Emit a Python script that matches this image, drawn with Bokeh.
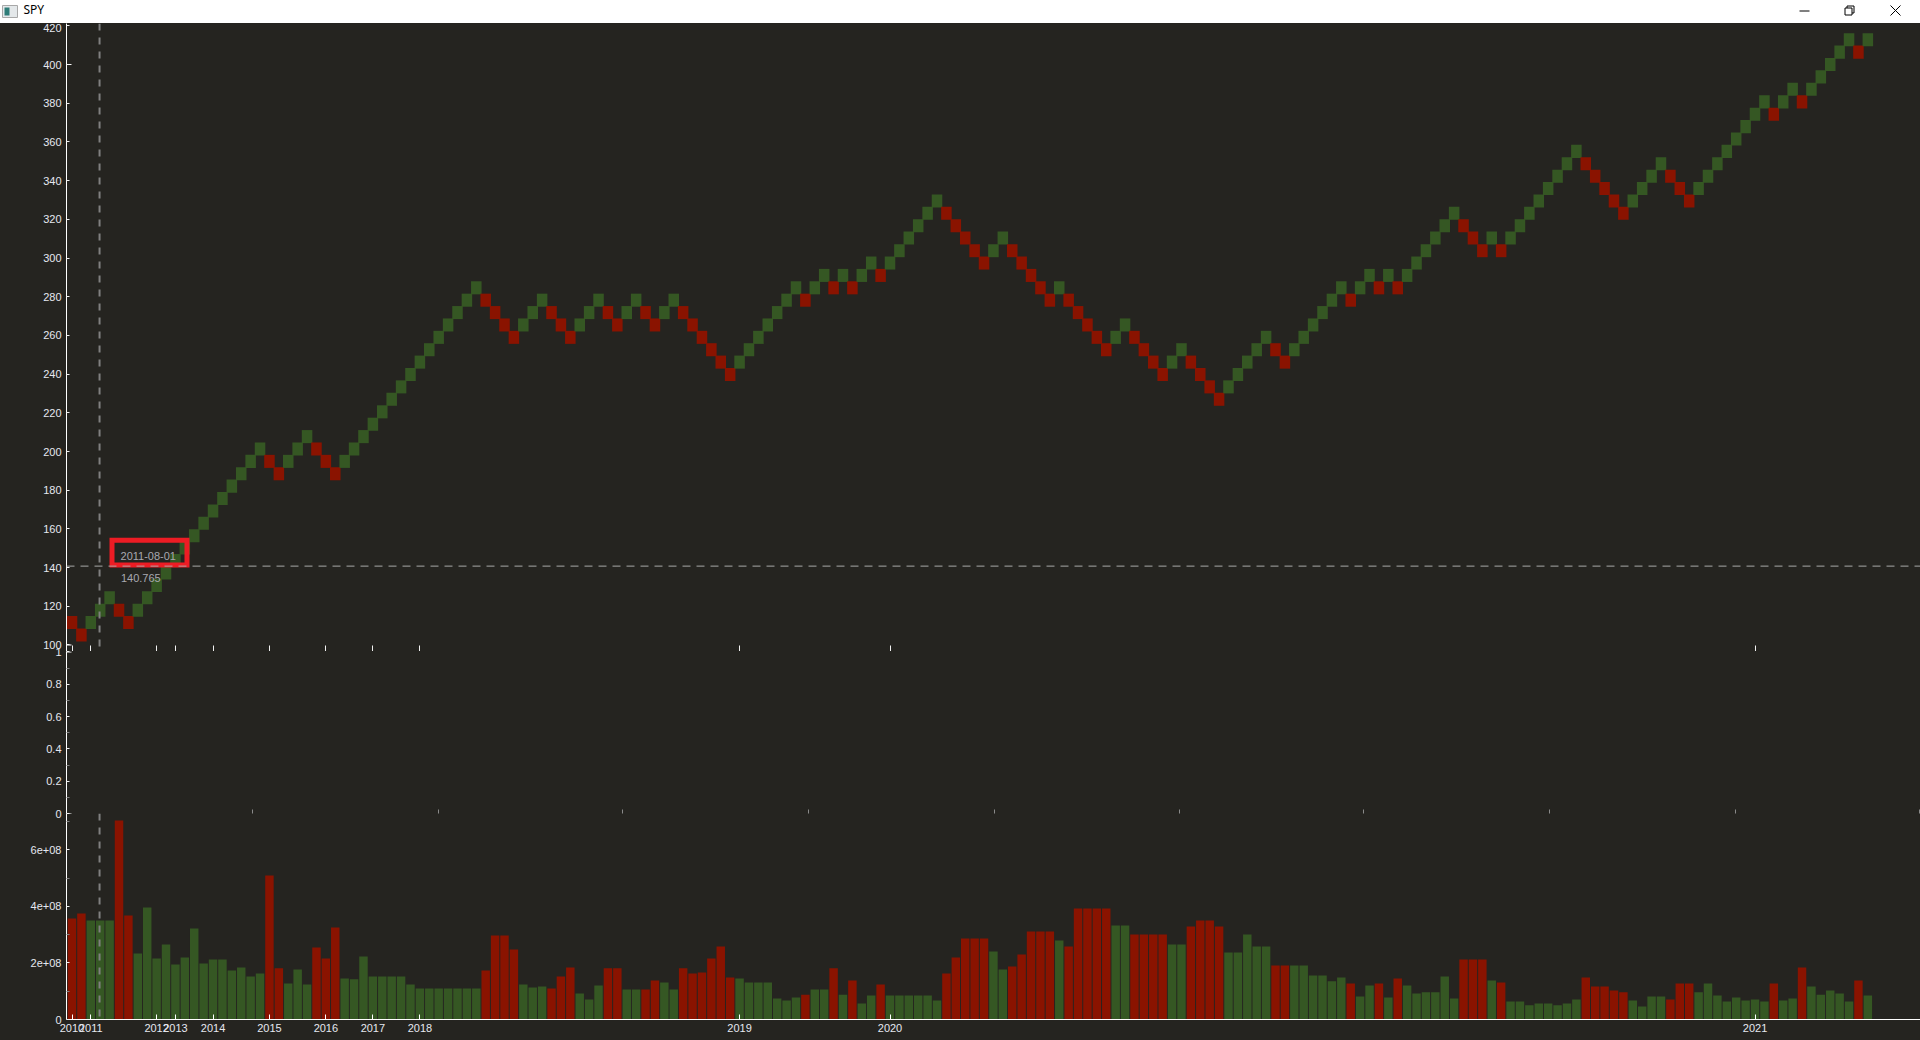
from bokeh.plotting import figure
from bokeh.layouts import column
from bokeh.models import (ColumnDataSource, Range1d, FixedTicker, Span, Label, AllLabels)
from bokeh.embed import file_html
from bokeh.resources import INLINE

BG = "#252420"
GREEN = "#355723"
RED = "#8a1300"
FONT = "Liberation Sans"

title_text = "SPY"
tip_date = "2011-08-01"
tip_value = 140.765
cursor_index = 2.93

year_index = [0, 2, 9, 11, 15, 21, 27, 32, 37, 71, 87, 179]
year_label = ["2010", "2011", "2012", "2013", "2014", "2015", "2016", "2017", "2018", "2019", "2020", "2021"]
mid_panel_ticks = [19.15, 38.94, 58.6, 78.3, 98.1, 117.8, 137.4, 157.1, 176.9, 196.5]

price_ticks = [100, 120, 140, 160, 180, 200, 220, 240, 260, 280, 300, 320, 340, 360, 380, 400, 420]
mid_ticks = [0, 0.2, 0.4, 0.6, 0.8, 1]
mid_minor = [0.1, 0.3, 0.5, 0.7, 0.9]
vol_ticks = [0, 2e8, 4e8, 6e8]
vol_minor = [1e8, 3e8, 5e8, 7e8]

brick_mid = [
    111.6, 105.2, 111.6, 118.0, 124.4, 118.0, 111.6, 118.0, 124.4, 130.8,
    137.2, 143.6, 150.1, 156.5, 162.9, 169.3, 175.7, 182.1, 188.5, 194.9,
    201.3, 194.9, 188.5, 194.9, 201.3, 207.7, 201.3, 194.9, 188.5, 194.9,
    201.3, 207.7, 214.1, 220.5, 227.0, 233.4, 239.8, 246.2, 252.6, 259.0,
    265.4, 271.8, 278.2, 284.6, 278.2, 271.8, 265.4, 259.0, 265.4, 271.8,
    278.2, 271.8, 265.4, 259.0, 265.4, 271.8, 278.2, 271.8, 265.4, 271.8,
    278.2, 271.8, 265.4, 271.8, 278.2, 271.8, 265.4, 259.0, 252.6, 246.2,
    239.8, 246.2, 252.6, 259.0, 265.4, 271.8, 278.2, 284.6, 278.2, 284.6,
    291.0, 284.6, 291.0, 284.6, 291.0, 297.4, 291.0, 297.4, 303.8, 310.3,
    316.7, 323.1, 329.5, 323.1, 316.7, 310.3, 303.8, 297.4, 303.8, 310.3,
    303.8, 297.4, 291.0, 284.6, 278.2, 284.6, 278.2, 271.8, 265.4, 259.0,
    252.6, 259.0, 265.4, 259.0, 252.6, 246.2, 239.8, 246.2, 252.6, 246.2,
    239.8, 233.4, 227.0, 233.4, 239.8, 246.2, 252.6, 259.0, 252.6, 246.2,
    252.6, 259.0, 265.4, 271.8, 278.2, 284.6, 278.2, 284.6, 291.0, 284.6,
    291.0, 284.6, 291.0, 297.4, 303.8, 310.3, 316.7, 323.1, 316.7, 310.3,
    303.8, 310.3, 303.8, 310.3, 316.7, 323.1, 329.5, 335.9, 342.3, 348.7,
    355.1, 348.7, 342.3, 335.9, 329.5, 323.1, 329.5, 335.9, 342.3, 348.7,
    342.3, 335.9, 329.5, 335.9, 342.3, 348.7, 355.1, 361.5, 367.9, 374.3,
    380.7, 374.3, 380.7, 387.2, 380.7, 387.2, 393.6, 400.0, 406.4, 412.8,
    406.4, 412.8,
]

volume_e8 = [
    3.57, 3.75, 3.50, 3.50, 3.50, 7.04, 3.68, 2.34, 3.96, 2.16,
    2.65, 1.95, 2.19, 3.22, 1.98, 2.12, 2.12, 1.73, 1.84, 1.52,
    1.63, 5.10, 1.81, 1.27, 1.77, 1.24, 2.55, 2.16, 3.26, 1.45,
    1.42, 2.23, 1.52, 1.52, 1.52, 1.52, 1.24, 1.10, 1.10, 1.10,
    1.10, 1.10, 1.10, 1.10, 1.73, 2.97, 2.97, 2.48, 1.24, 1.13,
    1.17, 1.10, 1.52, 1.84, 0.92, 0.71, 1.20, 1.81, 1.81, 1.06,
    1.06, 1.06, 1.38, 1.31, 1.06, 1.81, 1.63, 1.66, 2.16, 2.58,
    1.49, 1.45, 1.31, 1.31, 1.31, 0.74, 0.67, 0.78, 0.88, 1.06,
    1.06, 1.81, 0.88, 1.38, 0.57, 0.85, 1.24, 0.85, 0.85, 0.85,
    0.85, 0.85, 0.67, 1.63, 2.19, 2.87, 2.87, 2.87, 2.41, 1.77,
    1.88, 2.30, 3.11, 3.11, 3.11, 2.80, 2.58, 3.93, 3.93, 3.93,
    3.93, 3.33, 3.33, 3.01, 3.01, 3.01, 3.01, 2.65, 2.65, 3.29,
    3.50, 3.50, 3.29, 2.37, 2.37, 3.01, 2.58, 2.58, 1.91, 1.91,
    1.91, 1.91, 1.56, 1.56, 1.35, 1.49, 1.27, 0.81, 1.20, 1.27,
    0.78, 1.45, 1.20, 0.92, 0.96, 0.96, 1.52, 0.74, 2.12, 2.12,
    2.12, 1.38, 1.31, 0.64, 0.64, 0.50, 0.57, 0.57, 0.50, 0.57,
    0.71, 1.49, 1.17, 1.17, 1.03, 0.96, 0.67, 0.46, 0.81, 0.81,
    0.71, 1.27, 1.27, 0.96, 1.27, 0.85, 0.64, 0.78, 0.67, 0.71,
    0.64, 1.27, 0.67, 0.74, 1.84, 1.17, 0.88, 1.03, 0.92, 0.64,
    1.38, 0.85,
]

falling = [
    0, 1, 5, 6, 21, 22, 26, 27, 28, 44, 45, 46, 47, 51, 52, 53, 57, 58, 61, 62,
    65, 66, 67, 68, 69, 70, 78, 81, 83, 86, 93, 94, 95, 96, 97, 100, 101, 102, 103, 104,
    106, 107, 108, 109, 110, 113, 114, 115, 116, 119, 120, 121, 122, 128, 129, 136, 139, 141,
    148, 149, 150, 152, 161, 162, 163, 164, 165, 170, 171, 172, 181, 184, 190,
]

n = len(brick_mid)
index = list(range(n))
falling_set = set(falling)
colors = [RED if i in falling_set else GREEN for i in index]
source = ColumnDataSource(dict(x=index, mid=brick_mid, vol=[v * 1e8 for v in volume_e8], color=colors))

x_range = Range1d(-0.585, 196.6)
x_lo = x_range.start
TICK_LONG = 5 / 9.4


def panel(height, y_range, **kw):
    p = figure(width=1920, height=height, x_range=x_range, y_range=y_range,
               output_backend="svg", toolbar_location=None, min_border_left=66,
               min_border_right=0, min_border_top=kw.pop("top", 0), min_border_bottom=kw.pop("bottom", 0),
               background_fill_color=None, border_fill_color=None, outline_line_color=None,
               x_axis_location="below", **kw)
    p.grid.visible = False
    return p


def style_y(ax, ticks, minor=None, overrides=None):
    ax.ticker = FixedTicker(ticks=ticks, minor_ticks=minor or [])
    ax.axis_line_color = "#ffffff"
    ax.axis_line_width = 1
    ax.major_tick_in = 3
    ax.major_tick_out = 0
    ax.major_tick_line_color = "#f0f0f0"
    ax.minor_tick_in = 3
    ax.minor_tick_out = 0
    ax.minor_tick_line_color = "#808080"
    ax.major_label_standoff = 5
    ax.major_label_text_color = "#e6e8f0"
    ax.major_label_text_font = FONT
    ax.major_label_text_font_size = "11px"
    ax.major_label_policy = AllLabels()
    if overrides:
        ax.major_label_overrides = overrides


def style_x_plain(ax, ticks, color, length):
    ax.ticker = FixedTicker(ticks=ticks, minor_ticks=[])
    ax.axis_line_color = None
    ax.major_tick_in = length
    ax.major_tick_out = 0
    ax.major_tick_line_color = color
    ax.minor_tick_line_color = None
    ax.major_label_standoff = 0
    ax.major_label_text_font_size = "0px"
    ax.major_label_text_color = None


def long_ticks(p, ticks):
    p.segment(x0=[x_lo] * len(ticks), x1=[x_lo + TICK_LONG] * len(ticks), y0=ticks, y1=ticks,
              line_color="#ffffff", line_width=1)


# title bar
bar = figure(width=1920, height=23, x_range=(0, 1920), y_range=(23, 0), output_backend="svg",
             toolbar_location=None, min_border=0, min_border_left=0, min_border_right=0,
             min_border_top=0, min_border_bottom=0, background_fill_color="#ffffff",
             border_fill_color="#ffffff", outline_line_color=None)
bar.axis.visible = False
bar.grid.visible = False
bar.quad(left=[2], right=[17], top=[5], bottom=[17], fill_color="#e4e8ea", line_color="#a8a8a8")
bar.quad(left=[4], right=[9], top=[7], bottom=[15], fill_color="#2f7d78", line_color=None)
bar.add_layout(Label(x=23, y=17.5, text=title_text, text_font="Noto Sans", text_font_size="12px",
                     text_color="#000000"))
bar.segment(x0=[1799], x1=[1809], y0=[10.5], y1=[10.5], line_color="#000000")
bar.quad(left=[1844.5], right=[1851.5], top=[7.5], bottom=[14.5], fill_color=None, line_color="#000000")
bar.multi_line(xs=[[1846.5, 1846.5, 1853.5, 1853.5, 1851.5]], ys=[[7.5, 5.5, 5.5, 12.5, 12.5]], line_color="#000000")
bar.segment(x0=[1890, 1890], x1=[1900, 1900], y0=[5, 15], y1=[15, 5], line_color="#000000")

# price panel
p1 = panel(628, Range1d(96.64, 421.2))
p1.rect(x="x", y="mid", width=1.12, height=6.75, fill_color="color", line_color=None, source=source)
style_y(p1.yaxis[0], price_ticks)
style_x_plain(p1.xaxis[0], year_index, "#f0f0f0", 6)
long_ticks(p1, [100, 400])
p1.add_layout(Span(location=cursor_index, dimension="height", line_color="#808080", line_width=2,
                   line_dash="7 7"))
p1.add_layout(Span(location=tip_value, dimension="width", line_color="#a8a8a8", line_width=1,
                   line_dash="8 6"))
p1.add_layout(Label(x=5.16, y=143.7, text=tip_date, text_font=FONT, text_font_size="11px", text_color="#a9a9b0"))
p1.add_layout(Label(x=5.2, y=132.4, text=str(tip_value), text_font=FONT, text_font_size="11px", text_color="#a9a9b0"))
p1.quad(left=[4.255], right=[12.23], top=[154.2], bottom=[141.3], fill_color=None,
        line_color="#ed1c24", line_width=5, line_join="miter")

# empty middle panel
p2 = panel(174, Range1d(0, 1.003), top=5, bottom=7)
p2.margin = (-5, 0, 0, 0)
style_y(p2.yaxis[0], mid_ticks, mid_minor,
        {0: "0", 0.2: "0.2", 0.4: "0.4", 0.6: "0.6", 0.8: "0.8", 1: "1"})
style_x_plain(p2.xaxis[0], mid_panel_ticks, "#8a8a8a", 4)
long_ticks(p2, [0, 1])

# volume panel
p3 = panel(227, Range1d(0, 7.29e8), bottom=21)
p3.margin = (-7, 0, 0, 0)
p3.vbar(x="x", top="vol", bottom=0, width=0.9, fill_color="color", line_color=None, source=source)
style_y(p3.yaxis[0], vol_ticks, vol_minor, {0: "0", 200000000: "2e+08", 400000000: "4e+08", 600000000: "6e+08"})
long_ticks(p3, [0])
ax = p3.xaxis[0]
ax.ticker = FixedTicker(ticks=year_index, minor_ticks=[])
ax.major_label_overrides = dict(zip(year_index, year_label))
ax.axis_line_color = "#ffffff"
ax.major_tick_in = 5
ax.major_tick_out = 0
ax.major_tick_line_color = "#ffffff"
ax.minor_tick_line_color = None
ax.major_label_standoff = 4
ax.major_label_text_color = "#e6e8f0"
ax.major_label_text_font = FONT
ax.major_label_text_font_size = "11px"
ax.major_label_policy = AllLabels()
p3.add_layout(Span(location=cursor_index, dimension="height", line_color="#808080", line_width=2,
                   line_dash="7 7"))

page = column(column(bar, spacing=0, margin=0, styles={"background-color": "#ffffff"}), p1, p2, p3,
              spacing=0, width=1920, height=1040, margin=0, styles={"background-color": BG})
open("out.html", "w").write(file_html(page, INLINE))
